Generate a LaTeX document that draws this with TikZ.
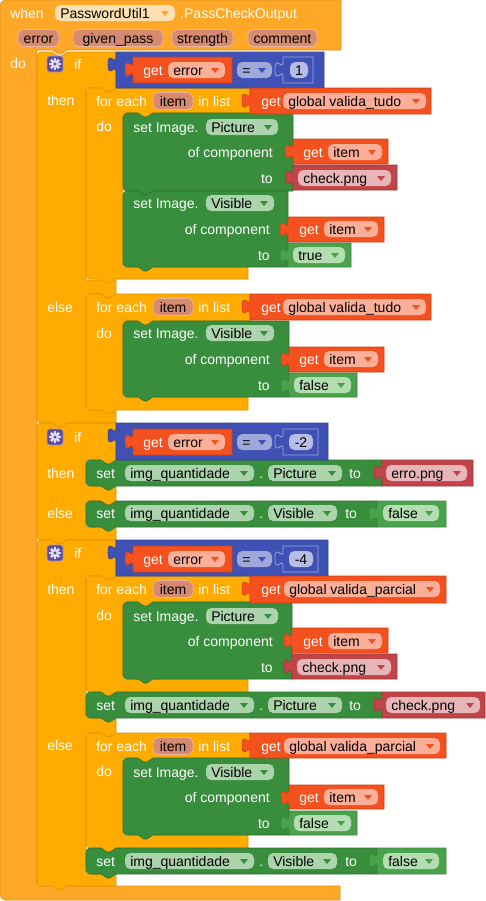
\documentclass[tikz,border=0pt]{standalone}
\usepackage{fontspec}
\setmainfont{Liberation Sans}
\usepackage{tikz}

\definecolor{evtorange}{RGB}{255,167,38}
\definecolor{ctrlorange}{RGB}{255,171,0}
\definecolor{mathblue}{RGB}{63,81,181}
\definecolor{getred}{RGB}{244,81,30}
\definecolor{textred}{RGB}{194,68,72}
\definecolor{setgreen}{RGB}{56,142,60}
\definecolor{logicgreen}{RGB}{75,162,77}
\definecolor{paramfill}{RGB}{214,139,112}
\definecolor{paramline}{RGB}{236,180,158}
\definecolor{gearpurple}{RGB}{94,74,158}
\definecolor{redchip}{RGB}{251,175,152}
\definecolor{greenchip}{RGB}{172,212,172}
\definecolor{logicchip}{RGB}{180,222,178}
\definecolor{textchip}{RGB}{232,182,185}
\definecolor{bluechip}{RGB}{160,168,218}
\definecolor{numfill}{RGB}{183,190,230}
\definecolor{compchip}{RGB}{255,224,178}

% statement block: style, x, y, width, height
\newcommand{\stmtblock}[5]{%
  \filldraw[#1] (#2+8,#3) -- (#2+15,#3) -- ++(6,4) -- ++(3,0) -- ++(6,-4) -- (#2+#4,#3) -- (#2+#4,#3+#5) -- (#2+30,#3+#5) -- ++(-6,4) -- ++(-3,0) -- ++(-6,-4) [rounded corners=3pt] -- (#2,#3+#5) -- (#2,#3) -- cycle;}
% value block with its plug: style, x, y, width, height
\newcommand{\valblock}[5]{%
  \filldraw[#1] (#2,#3) -- (#2+#4,#3) -- (#2+#4,#3+#5) -- (#2,#3+#5) -- (#2,#3+20) .. controls (#2,#3+10) and (#2-8,#3+28) .. (#2-8,#3+12.5) .. controls (#2-8,#3-3) and (#2,#3+15) .. (#2,#3+5) -- cycle;}
% for each: top, header bottom, input bottom, bottom, header right
\newcommand{\loopblock}[5]{%
  \filldraw[ctrl] (94,#1) -- (101,#1) -- ++(6,4) -- ++(3,0) -- ++(6,-4) -- (#5,#1) -- (#5,#2) -- (153,#2) -- ++(-6,4) -- ++(-3,0) -- ++(-6,-4) -- (123,#2) -- (123,#3) -- (248,#3) -- (248,#4) -- (116,#4) -- ++(-6,4) -- ++(-3,0) -- ++(-6,-4) [rounded corners=3pt] -- (86,#4) -- (86,#1) -- cycle;}
% if/else: top, then top, then end, else top, else end, bottom
\newcommand{\ifblock}[6]{%
  \filldraw[ctrl] (45,#1) -- (52,#1) -- ++(6,4) -- ++(3,0) -- ++(6,-4) -- (116,#1) -- (116,#2) -- ++(-6,4) -- ++(-3,0) -- ++(-6,-4) -- (86,#2) -- (86,#3) -- (116,#3) -- (116,#4) -- ++(-6,4) -- ++(-3,0) -- ++(-6,-4) -- (86,#4) -- (86,#5) -- (116,#5) -- (116,#6) -- (67,#6) -- ++(-6,4) -- ++(-3,0) -- ++(-6,-4) [rounded corners=3pt] -- (37,#6) -- (37,#1) -- cycle;}
\newcommand{\lbl}[4]{\node[lab] (#1) at (#2,#3+5) {#4};}
\newcommand{\lblr}[4]{\node[labr] (#1) at (#2,#3+5) {#4};}
% dropdown field: name, x1, x2, y, fill, arrow colour, text
\newcommand{\ddchip}[7]{%
  \fill[#5, rounded corners=4pt] (#2,#4-8) rectangle (#3,#4+8);
  \node[chiptxt] (#1) at (#2+5,#4+5) {#7};
  \fill[#6] (#3-14,#4-2) -- (#3-6,#4-2) -- (#3-10,#4+3) -- cycle;}
\newcommand{\parchip}[5]{%
  \filldraw[fill=paramfill, draw=paramline, line width=0.6pt, rounded corners=4pt] (#2,#4-8.5) rectangle (#3,#4+8.5);
  \node[chiptxt, anchor=base] (#1) at ({(#2+#3)/2},#4+5) {#5};}
\newcommand{\numchip}[5]{%
  \fill[numfill, rounded corners=4pt] (#2,#4-8) rectangle (#3,#4+8);
  \node[chiptxt, anchor=base] (#1) at ({(#2+#3)/2},#4+5) {#5};}
\newcommand{\gear}[1]{%
  \filldraw[fill=gearpurple, draw=gearpurple!55!white, rounded corners=2pt] (47,#1-8) rectangle (63,#1+8);
  \foreach \a in {0,45,...,315}
    \fill[gearfg, rotate around={\a:(55,#1)}] (53.7,#1-5.8) rectangle (56.3,#1-3);
  \fill[gearfg] (55,#1) circle (3.9);
  \fill[gearpurple] (55,#1) circle (1.7);}

\begin{document}
\begin{tikzpicture}[x=0.75pt, y=-0.75pt, font=\fontsize{10.5pt}{12pt}\selectfont,
  evt/.style={fill=evtorange, draw=evtorange!85!black, line width=0.4pt},
  ctrl/.style={fill=ctrlorange, draw=ctrlorange!85!black, line width=0.4pt},
  cmp/.style={fill=mathblue, draw=mathblue!80!black, line width=0.4pt},
  num/.style={fill=mathblue, draw=mathblue!50!white, line width=0.6pt},
  getv/.style={fill=getred, draw=getred!80!black, line width=0.4pt},
  txtv/.style={fill=textred, draw=textred!80!black, line width=0.4pt},
  setb/.style={fill=setgreen, draw=setgreen!80!black, line width=0.4pt},
  logv/.style={fill=logicgreen, draw=logicgreen!80!black, line width=0.4pt},
  gearfg/.style={fill=white!80!gearpurple},
  lab/.style={anchor=base west, text=white, inner sep=0pt},
  labr/.style={lab, anchor=base east},
  chiptxt/.style={anchor=base west, text=black, inner sep=0pt}]
\useasboundingbox (0,0) rectangle (486,901);
% ---- event block and the three if blocks
\filldraw[evt] (10,0) -- (341,0) -- (341,50) -- (67,50) -- ++(-6,4) -- ++(-3,0) -- ++(-6,-4) -- (37,50) -- (37,886) -- (340,886) -- (340,900) [rounded corners=4pt] -- (0,900) -- (0,0) -- cycle;
\ifblock{52}{88}{280}{294}{410}{423}
\ifblock{423}{460}{486}{501}{527}{540}
\ifblock{540}{576}{718}{733}{874}{886}
\loopblock{88}{113}{267}{279}{250}
\loopblock{294}{321}{397}{410}{250}
\loopblock{576}{602}{679}{692}{250}
\loopblock{733}{758}{835}{848}{250}
% ---- setters
\stmtblock{setb}{123}{113}{170}{78}
\stmtblock{setb}{123}{191}{165}{76}
\stmtblock{setb}{123}{321}{166}{76}
\stmtblock{setb}{86}{460}{296}{26}
\stmtblock{setb}{86}{501}{291}{26}
\stmtblock{setb}{123}{602}{169}{77}
\stmtblock{setb}{86}{692}{296}{26}
\stmtblock{setb}{123}{758}{166}{77}
\stmtblock{setb}{86}{848}{291}{26}
% ---- value blocks
\valblock{cmp}{116}{52}{208}{36} \valblock{getv}{133}{57}{99}{26} \valblock{num}{283}{57}{30}{26}
\valblock{cmp}{116}{423}{212}{37} \valblock{getv}{133}{429}{99}{26} \valblock{num}{283}{429}{35}{26}
\valblock{cmp}{116}{540}{212}{36} \valblock{getv}{133}{546}{99}{26} \valblock{num}{283}{546}{35}{26}
\valblock{getv}{250}{88}{181}{26}
\valblock{getv}{250}{294}{181}{26}
\valblock{getv}{250}{576}{196}{27}
\valblock{getv}{250}{733}{196}{25}
\valblock{getv}{293}{139}{95}{25} \valblock{txtv}{293}{165}{104}{25}
\valblock{getv}{288}{217}{96}{25} \valblock{logv}{288}{243}{63}{24}
\valblock{getv}{289}{347}{95}{25} \valblock{logv}{289}{373}{68}{24}
\valblock{txtv}{382}{460}{91}{26}
\valblock{logv}{377}{501}{69}{26}
\valblock{getv}{292}{628}{96}{25} \valblock{txtv}{292}{654}{105}{25}
\valblock{txtv}{382}{692}{103}{26}
\valblock{getv}{289}{785}{95}{24} \valblock{logv}{289}{811}{68}{24}
\valblock{logv}{377}{848}{69}{26}
% ---- header
\lbl{when}{10}{13}{when}
\ddchip{util}{55}{175}{13}{compchip}{evtorange}{PasswordUtil1}
\lbl{event}{180}{13}{.PassCheckOutput}
\parchip{perror}{18}{59}{38}{error}
\parchip{ppass}{73}{163}{38}{given\_pass}
\parchip{pstrength}{172}{233}{38}{strength}
\parchip{pcomment}{248}{317}{38}{comment}
\lbl{do0}{10}{63}{do}
% ---- if error = 1
\gear{64} \lbl{if1}{74}{64}{if} \lbl{then1}{47}{100}{then} \lbl{else1}{47}{307}{else}
\lbl{get1}{143}{70}{get} \ddchip{err1}{168}{225}{70}{redchip}{getred}{error}
\ddchip{eq1}{237}{272}{70}{bluechip}{mathblue}{=} \numchip{n1}{290}{308}{70}{1}
\lbl{for1}{96}{101}{for each} \parchip{item1}{153}{193}{101}{item} \lbl{in1}{198}{101}{in list} \lbl{do1}{96}{126}{do}
\lbl{getl1}{261}{101}{get} \ddchip{list1}{283}{426}{101}{redchip}{getred}{global valida\_tudo}
\lbl{set1}{133}{127}{set Image.} \ddchip{prop1}{206}{278}{127}{greenchip}{setgreen}{Picture}
\lblr{comp1}{273}{152}{of component} \lblr{to1}{273}{178}{to}
\lbl{geti1}{303}{152}{get} \ddchip{it1}{328}{382}{152}{redchip}{getred}{item}
\ddchip{png1}{298}{391}{178}{textchip}{textred}{check.png}
\lbl{set2}{133}{203}{set Image.} \ddchip{prop2}{206}{274}{203}{greenchip}{setgreen}{Visible}
\lblr{comp2}{270}{229}{of component} \lblr{to2}{270}{255}{to}
\lbl{geti2}{299}{229}{get} \ddchip{it2}{324}{378}{229}{redchip}{getred}{item}
\ddchip{bool2}{293}{345}{255}{logicchip}{logicgreen}{true}
\lbl{for2}{96}{307}{for each} \parchip{item2}{153}{193}{307}{item} \lbl{in2}{198}{307}{in list} \lbl{do2}{96}{333}{do}
\lbl{getl2}{261}{307}{get} \ddchip{list2}{283}{426}{307}{redchip}{getred}{global valida\_tudo}
\lbl{set3}{133}{333}{set Image.} \ddchip{prop3}{206}{274}{333}{greenchip}{setgreen}{Visible}
\lblr{comp3}{270}{359}{of component} \lblr{to3}{270}{385}{to}
\lbl{geti3}{299}{359}{get} \ddchip{it3}{324}{378}{359}{redchip}{getred}{item}
\ddchip{bool3}{294}{351}{385}{logicchip}{logicgreen}{false}
% ---- if error = -2
\gear{437} \lbl{if2}{74}{437}{if} \lbl{then2}{47}{473}{then} \lbl{else2}{47}{513}{else}
\lbl{get2}{143}{442}{get} \ddchip{err2}{168}{225}{442}{redchip}{getred}{error}
\ddchip{eq2}{237}{272}{442}{bluechip}{mathblue}{=} \numchip{n2}{289}{313}{442}{-2}
\lbl{set4}{96}{473}{set} \ddchip{cmp4}{125}{254}{473}{greenchip}{setgreen}{img\_quantidade}
\lbl{dot4}{259}{473}{.} \ddchip{prop4}{268}{342}{473}{greenchip}{setgreen}{Picture} \lbl{to4}{349}{473}{to}
\ddchip{png4}{386}{467}{473}{textchip}{textred}{erro.png}
\lbl{set5}{96}{513}{set} \ddchip{cmp5}{125}{254}{513}{greenchip}{setgreen}{img\_quantidade}
\lbl{dot5}{259}{513}{.} \ddchip{prop5}{268}{337}{513}{greenchip}{setgreen}{Visible} \lbl{to5}{345}{513}{to}
\ddchip{bool5}{383}{439}{513}{logicchip}{logicgreen}{false}
% ---- if error = -4
\gear{553} \lbl{if3}{74}{553}{if} \lbl{then3}{47}{589}{then} \lbl{else3}{47}{745}{else}
\lbl{get3}{143}{559}{get} \ddchip{err3}{168}{225}{559}{redchip}{getred}{error}
\ddchip{eq3}{237}{272}{559}{bluechip}{mathblue}{=} \numchip{n3}{289}{313}{559}{-4}
\lbl{for3}{96}{589}{for each} \parchip{item3}{153}{193}{589}{item} \lbl{in3}{198}{589}{in list} \lbl{do3}{96}{615}{do}
\lbl{getl3}{261}{589}{get} \ddchip{list3}{284}{440}{589}{redchip}{getred}{global valida\_parcial}
\lbl{set6}{133}{616}{set Image.} \ddchip{prop6}{206}{278}{616}{greenchip}{setgreen}{Picture}
\lblr{comp6}{273}{641}{of component} \lblr{to6}{273}{667}{to}
\lbl{geti6}{303}{641}{get} \ddchip{it6}{328}{382}{641}{redchip}{getred}{item}
\ddchip{png6}{297}{391}{667}{textchip}{textred}{check.png}
\lbl{set7}{96}{705}{set} \ddchip{cmp7}{125}{254}{705}{greenchip}{setgreen}{img\_quantidade}
\lbl{dot7}{259}{705}{.} \ddchip{prop7}{268}{342}{705}{greenchip}{setgreen}{Picture} \lbl{to7}{349}{705}{to}
\ddchip{png7}{386}{480}{705}{textchip}{textred}{check.png}
\lbl{for4}{96}{746}{for each} \parchip{item4}{153}{193}{746}{item} \lbl{in4}{198}{746}{in list} \lbl{do4}{96}{771}{do}
\lbl{getl4}{261}{746}{get} \ddchip{list4}{284}{440}{746}{redchip}{getred}{global valida\_parcial}
\lbl{set8}{133}{772}{set Image.} \ddchip{prop8}{206}{274}{772}{greenchip}{setgreen}{Visible}
\lblr{comp8}{270}{797}{of component} \lblr{to8}{270}{823}{to}
\lbl{geti8}{299}{797}{get} \ddchip{it8}{324}{378}{797}{redchip}{getred}{item}
\ddchip{bool8}{294}{351}{823}{logicchip}{logicgreen}{false}
\lbl{set9}{96}{861}{set} \ddchip{cmp9}{125}{254}{861}{greenchip}{setgreen}{img\_quantidade}
\lbl{dot9}{259}{861}{.} \ddchip{prop9}{268}{337}{861}{greenchip}{setgreen}{Visible} \lbl{to9}{345}{861}{to}
\ddchip{bool9}{383}{439}{861}{logicchip}{logicgreen}{false}
\end{tikzpicture}
\end{document}
